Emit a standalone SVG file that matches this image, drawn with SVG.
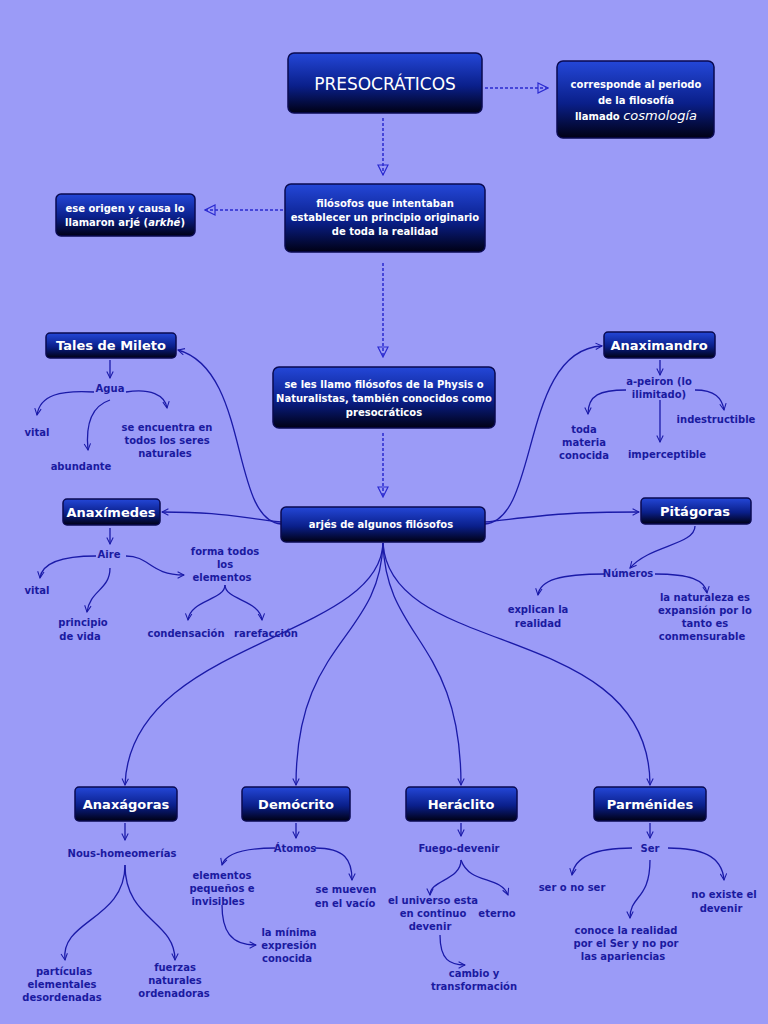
<svg xmlns="http://www.w3.org/2000/svg" width="768" height="1024" viewBox="0 0 768 1024">
<defs>
<linearGradient id="g" x1="0" y1="0" x2="0" y2="1"><stop offset="0" stop-color="#2447d8"/><stop offset="0.55" stop-color="#0a1f8a"/><stop offset="1" stop-color="#000014"/></linearGradient>
<marker id="tri" viewBox="0 0 12 12" refX="11" refY="6" markerWidth="12" markerHeight="12" markerUnits="userSpaceOnUse" orient="auto"><path d="M1,1 L11,6 L1,11 Z" fill="none" stroke="#2a2ad0" stroke-width="1.2"/></marker>
<marker id="ar" viewBox="0 0 10 10" refX="9" refY="5" markerWidth="8" markerHeight="8" markerUnits="userSpaceOnUse" orient="auto"><path d="M1,1 L9,5 L1,9" fill="none" stroke="#1a1aa8" stroke-width="1.3"/></marker>
</defs>
<style>
.n{fill:url(#g);stroke:#0a0a50;stroke-width:1.5}
.t{fill:#fff;font-family:"DejaVu Sans",sans-serif;font-weight:bold;font-size:10px;text-anchor:middle}
.h{fill:#fff;font-family:"DejaVu Sans",sans-serif;font-weight:bold;font-size:13px;text-anchor:middle}
.l{fill:#1a1aa0;font-family:"DejaVu Sans",sans-serif;font-weight:bold;font-size:10px;text-anchor:middle}
.d{fill:none;stroke:#2a2ad0;stroke-width:1.5;stroke-dasharray:3 2;marker-end:url(#tri)}
.c{fill:none;stroke:#1a1aa8;stroke-width:1.3;marker-end:url(#ar)}
</style>
<rect width="768" height="1024" fill="#9b9bf7"/>
<g id="connectors">
<path class="d" d="M485,88 H548"/>
<path class="d" d="M383,118 V175"/>
<path class="d" d="M283,210 H205"/>
<path class="d" d="M383,263 V357"/>
<path class="d" d="M383,433 V497"/>
<path class="c" d="M281,524 C230,520 250,370 178,350"/>
<path class="c" d="M485,524 C540,520 520,350 602,346"/>
<path class="c" d="M281,522 C230,516 220,512 162,512"/>
<path class="c" d="M485,522 C540,516 560,512 639,512"/>
<path class="c" d="M383,543 C380,640 130,640 125,785"/>
<path class="c" d="M383,543 C380,640 296,640 296,785"/>
<path class="c" d="M383,543 C386,640 461,640 461,785"/>
<path class="c" d="M383,543 C390,660 650,620 650,785"/>
<path class="c" d="M110,360 V378"/>
<path class="c" d="M94,392 C60,390 40,395 37,415"/>
<path class="c" d="M126,392 C150,388 165,395 167,408"/>
<path class="c" d="M110,400 C95,405 85,420 88,450"/>
<path class="c" d="M660,360 V375"/>
<path class="c" d="M626,390 C600,390 588,395 588,414"/>
<path class="c" d="M695,390 C715,390 722,398 724,410"/>
<path class="c" d="M660,400 V442"/>
<path class="c" d="M110,528 V544"/>
<path class="c" d="M96,556 C60,556 42,563 40,578"/>
<path class="c" d="M110,568 C110,590 90,590 87,612"/>
<path class="c" d="M126,556 C150,556 150,575 184,575"/>
<path class="c" d="M225,585 C225,600 190,600 188,620"/>
<path class="c" d="M225,585 C225,600 260,600 262,620"/>
<path class="c" d="M695,526 C695,545 650,545 630,568"/>
<path class="c" d="M605,574 C560,574 540,580 538,595"/>
<path class="c" d="M655,574 C690,574 705,580 707,593"/>
<path class="c" d="M125,823 V840"/>
<path class="c" d="M125,865 C125,920 60,920 65,960"/>
<path class="c" d="M125,865 C125,920 175,920 175,960"/>
<path class="c" d="M296,823 V838"/>
<path class="c" d="M275,848 C240,848 225,855 222,865"/>
<path class="c" d="M315,848 C345,848 352,860 352,880"/>
<path class="c" d="M222,905 C222,930 230,945 256,945"/>
<path class="c" d="M461,823 V836"/>
<path class="c" d="M461,860 C461,880 430,880 430,895"/>
<path class="c" d="M461,860 C470,885 500,875 508,895"/>
<path class="c" d="M440,935 C440,960 450,965 465,965"/>
<path class="c" d="M650,823 V838"/>
<path class="c" d="M632,848 C600,848 575,855 572,875"/>
<path class="c" d="M668,848 C700,848 722,855 724,880"/>
<path class="c" d="M650,860 C650,900 630,895 630,918"/>
</g>
<g id="presocraticos"><rect class="n" x="288" y="53" width="194" height="60" rx="6"/><text class="h" x="385" y="90" style="font-weight:normal;font-size:17px">PRESOCRÁTICOS</text></g>
<g id="cosmologia"><rect class="n" x="557" y="61" width="157" height="77" rx="6"/><text class="t" x="636" y="88">corresponde al periodo</text><text class="t" x="636" y="104">de la filosofía</text><text class="t" x="636" y="120">llamado <tspan style="font-weight:normal;font-size:13px;font-style:italic">cosmología</tspan></text></g>
<g id="filosofos"><rect class="n" x="285" y="184" width="200" height="68" rx="6"/><text class="t" x="385" y="207">filósofos que intentaban</text><text class="t" x="385" y="221">establecer un principio originario</text><text class="t" x="385" y="235">de toda la realidad</text></g>
<g id="arje"><rect class="n" x="56" y="194" width="139" height="42" rx="5"/><text class="t" x="125" y="212">ese origen y causa lo</text><text class="t" x="125" y="226">llamaron arjé (<tspan font-style="italic">arkhé</tspan>)</text></g>
<g id="physis"><rect class="n" x="273" y="367" width="222" height="61" rx="6"/><text class="t" x="384" y="388">se les llamo filósofos de la Physis o</text><text class="t" x="384" y="402">Naturalistas, también conocidos como</text><text class="t" x="384" y="416">presocráticos</text></g>
<g id="arjes"><rect class="n" x="281" y="507" width="204" height="35" rx="5"/><text class="t" x="381" y="528">arjés de algunos filósofos</text></g>
<g id="tales"><rect class="n" x="46" y="333" width="130" height="25" rx="4"/><text class="h" x="111" y="350">Tales de Mileto</text>
<text class="l" x="110" y="392">Agua</text><text class="l" x="37" y="436">vital</text><text class="l" x="167" y="431">se encuentra en</text><text class="l" x="167" y="444">todos los seres</text><text class="l" x="165" y="457">naturales</text><text class="l" x="81" y="470">abundante</text></g>
<g id="anaximandro"><rect class="n" x="604" y="332" width="111" height="26" rx="4"/><text class="h" x="659" y="350">Anaximandro</text>
<text class="l" x="659" y="385">a-peiron (lo</text><text class="l" x="659" y="398">ilimitado)</text><text class="l" x="584" y="433">toda</text><text class="l" x="584" y="446">materia</text><text class="l" x="584" y="459">conocida</text><text class="l" x="716" y="423">indestructible</text><text class="l" x="667" y="458">imperceptible</text></g>
<g id="anaximedes"><rect class="n" x="63" y="499" width="97" height="26" rx="4"/><text class="h" x="111" y="517">Anaxímedes</text>
<text class="l" x="109" y="558">Aire</text><text class="l" x="37" y="594">vital</text><text class="l" x="83" y="626">principio</text><text class="l" x="80" y="640">de vida</text><text class="l" x="225" y="555">forma todos</text><text class="l" x="225" y="568">los</text><text class="l" x="222" y="581">elementos</text><text class="l" x="186" y="637">condensación</text><text class="l" x="266" y="637">rarefacción</text></g>
<g id="pitagoras"><rect class="n" x="641" y="498" width="110" height="26" rx="4"/><text class="h" x="695" y="516">Pitágoras</text>
<text class="l" x="628" y="577">Números</text><text class="l" x="538" y="613">explican la</text><text class="l" x="538" y="627">realidad</text><text class="l" x="705" y="601">la naturaleza es</text><text class="l" x="705" y="614">expansión por lo</text><text class="l" x="705" y="627">tanto es</text><text class="l" x="702" y="640">conmensurable</text></g>
<g id="anaxagoras"><rect class="n" x="75" y="787" width="102" height="34" rx="4"/><text class="h" x="126" y="809">Anaxágoras</text>
<text class="l" x="122" y="857">Nous-homeomerías</text><text class="l" x="64" y="975">partículas</text><text class="l" x="62" y="988">elementales</text><text class="l" x="62" y="1001">desordenadas</text><text class="l" x="175" y="971">fuerzas</text><text class="l" x="175" y="984">naturales</text><text class="l" x="174" y="997">ordenadoras</text></g>
<g id="democrito"><rect class="n" x="242" y="787" width="108" height="34" rx="4"/><text class="h" x="296" y="809">Demócrito</text>
<text class="l" x="295" y="852">Átomos</text><text class="l" x="222" y="879">elementos</text><text class="l" x="222" y="892">pequeños e</text><text class="l" x="218" y="905">invisibles</text><text class="l" x="346" y="893">se mueven</text><text class="l" x="345" y="907">en el vacío</text><text class="l" x="289" y="936">la mínima</text><text class="l" x="289" y="949">expresión</text><text class="l" x="287" y="962">conocida</text></g>
<g id="heraclito"><rect class="n" x="406" y="787" width="111" height="34" rx="4"/><text class="h" x="461" y="809">Heráclito</text>
<text class="l" x="459" y="852">Fuego-devenir</text><text class="l" x="433" y="904">el universo esta</text><text class="l" x="433" y="917">en continuo</text><text class="l" x="430" y="930">devenir</text><text class="l" x="497" y="917">eterno</text><text class="l" x="474" y="977">cambio y</text><text class="l" x="474" y="990">transformación</text></g>
<g id="parmenides"><rect class="n" x="594" y="787" width="112" height="34" rx="4"/><text class="h" x="650" y="809">Parménides</text>
<text class="l" x="650" y="852">Ser</text><text class="l" x="572" y="891">ser o no ser</text><text class="l" x="724" y="898">no existe el</text><text class="l" x="721" y="912">devenir</text><text class="l" x="626" y="934">conoce la realidad</text><text class="l" x="626" y="947">por el Ser y no por</text><text class="l" x="623" y="960">las apariencias</text></g>
</svg>
